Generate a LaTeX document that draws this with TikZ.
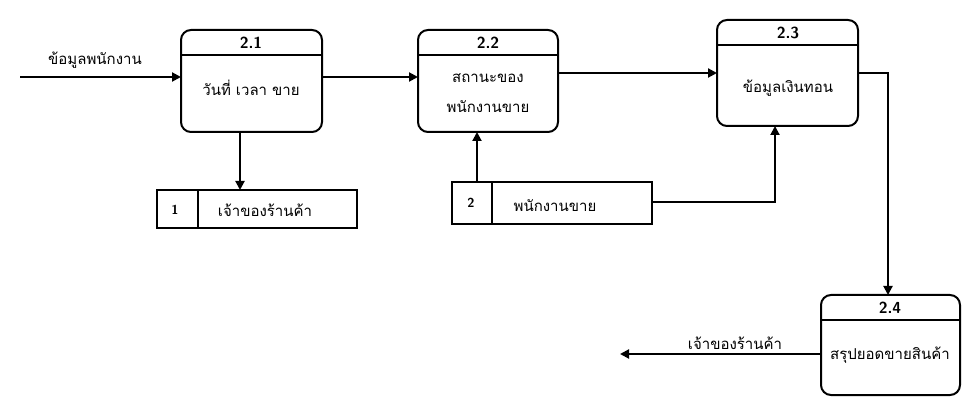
\documentclass[tikz,border=0pt]{standalone}
\usepackage{fontspec}
\newfontfamily\thaifont[Script=Thai]{Loma}
\usetikzlibrary{arrows.meta}
\begin{document}
\begin{tikzpicture}[x=1pt,y=-1pt,
  proc/.style={draw,line width=2pt,rounded corners=10pt},
  flow/.style={line width=2pt,-{Triangle[length=9pt,width=9pt]}},
  txt/.style={font=\thaifont\fontsize{15}{18}\selectfont,inner sep=0pt},
  num/.style={font=\sffamily\bfseries\fontsize{16}{18}\selectfont,inner sep=0pt}]
\useasboundingbox (0,0) rectangle (976,419);
% processes
\draw[proc] (181,30) rectangle (322,132); \draw[line width=2pt] (181,55)--(322,55);
\node[num] (n1) at (251,43) {2.1};
\node[txt] (t1) at (251,88) {วันที่ เวลา ขาย};
\coordinate (p1l) at (181,77); \coordinate (p1r) at (322,77); \coordinate (p1b) at (240,132);
\draw[proc] (418,30) rectangle (558,132); \draw[line width=2pt] (418,55)--(558,55);
\node[num] (n2) at (488,43) {2.2};
\node[txt,align=center] (t2) at (488,93) {สถานะของ\\[12pt]พนักงานขาย};
\coordinate (p2l) at (418,77); \coordinate (p2r) at (558,73); \coordinate (p2b) at (477,132);
\draw[proc] (717,20) rectangle (858,126); \draw[line width=2pt] (717,45)--(858,45);
\node[num] (n3) at (788,33) {2.3};
\node[txt] (t3) at (788,88) {ข้อมูลเงินทอน};
\coordinate (p3l) at (717,73); \coordinate (p3r) at (858,73); \coordinate (p3b) at (775,126);
\draw[proc] (821,295) rectangle (960,395); \draw[line width=2pt] (821,320)--(960,320);
\node[num] (n4) at (890,308) {2.4};
\node[txt] (t4) at (890,355) {สรุปยอดขายสินค้า};
\coordinate (p4l) at (821,354); \coordinate (p4t) at (888,295);
% stores
\draw[line width=1.5pt] (157,190) rectangle (357,228); \draw[line width=1.5pt] (198,190)--(198,228);
\node[num,font=\sffamily\bfseries\fontsize{13}{15}\selectfont] (s1n) at (175,210) {1};
\node[txt] (s1) at (265,210) {เจ้าของร้านค้า};
\coordinate (s1t) at (240,190);
\draw[line width=1.5pt] (452,182) rectangle (652,224); \draw[line width=1.5pt] (492,182)--(492,224);
\node[num,font=\sffamily\bfseries\fontsize{13}{15}\selectfont] (s2n) at (471,203) {2};
\node[txt] (s2) at (555,206) {พนักงานขาย};
\coordinate (s2t) at (477,182); \coordinate (s2r) at (652,202);
% flows
\coordinate (src) at (20,77); \coordinate (dst) at (620,354);
\draw[flow] (src) -- (p1l);
\node[txt] (l1) at (95,60) {ข้อมูลพนักงาน};
\draw[flow] (p1r) -- (p2l);
\draw[flow] (p2r) -- (p3l);
\draw[flow] (p1b) -- (s1t);
\draw[flow] (s2t) -- (p2b);
\draw[flow] (s2r) -| (p3b);
\draw[flow] (p3r) -| (p4t);
\draw[flow] (p4l) -- (dst);
\node[txt] (l2) at (735,343) {เจ้าของร้านค้า};
\end{tikzpicture}
\end{document}
